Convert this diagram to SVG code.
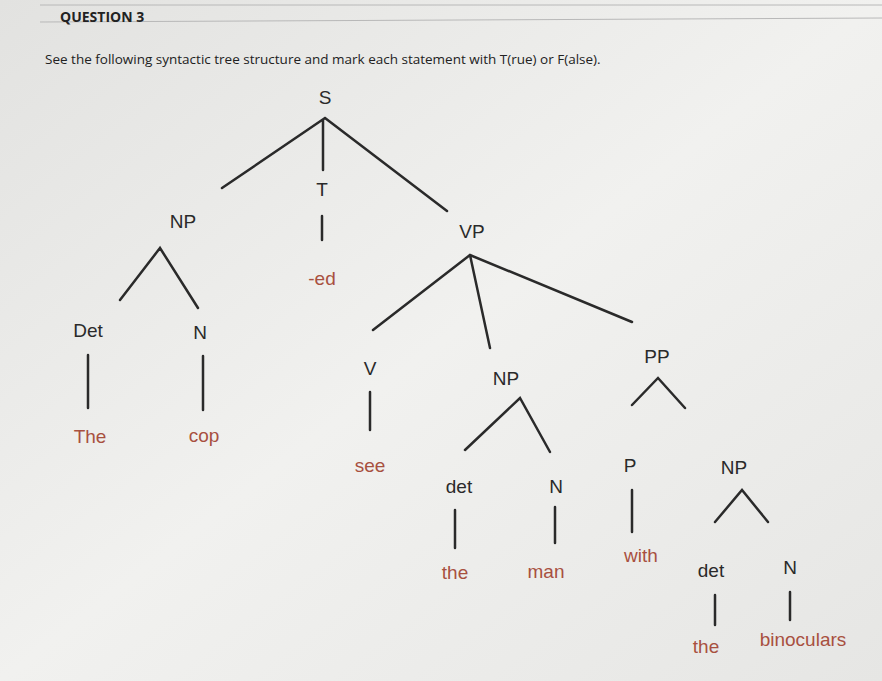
<svg xmlns="http://www.w3.org/2000/svg" width="882" height="681" viewBox="0 0 882 681">
<defs>
<linearGradient id="bg" x1="0" y1="0" x2="1" y2="1">
<stop offset="0" stop-color="#e2e2e0"/><stop offset="0.5" stop-color="#f1f1ef"/><stop offset="1" stop-color="#e6e6e4"/>
</linearGradient>
</defs>
<style>
.l{stroke:#2a2a2a;stroke-width:2.5;fill:none;stroke-linecap:round}
.t{font-family:"Liberation Sans",Arial,sans-serif;font-size:19px;fill:#2a2a2a;text-anchor:middle}
.r{font-family:"Liberation Sans",Arial,sans-serif;font-size:19px;fill:#a8503f;text-anchor:middle}
.h{font-family:"Open Sans","Liberation Sans",sans-serif;fill:#222}
</style>
<rect width="882" height="681" fill="url(#bg)"/>
<line x1="40" y1="5" x2="882" y2="5" stroke="#b8b8b8" stroke-width="1"/>
<line x1="40" y1="22" x2="882" y2="18" stroke="#b8b8b8" stroke-width="1"/>
<text class="h" x="60" y="22" font-size="14" font-weight="bold">QUESTION 3</text>
<text class="h" x="45" y="64" font-size="13.5">See the following syntactic tree structure and mark each statement with T(rue) or F(alse).</text>
<g id="connectors">
<path class="l" d="M325 118 L222 188 M325 118 L447 211 M323 120 L323 170 M322 216 L322 240"/>
<path class="l" d="M120 300 L160 248 L198 308 M88 355 L88 408 M203 356 L203 410"/>
<path class="l" d="M373 330 L470 255 L632 322 M470 255 L490 348 M370 392 L370 430"/>
<path class="l" d="M465 450 L520 398 L550 452 M455 510 L455 548 M555 507 L555 543"/>
<path class="l" d="M632 405 L658 378 L685 408 M632 490 L632 532"/>
<path class="l" d="M715 522 L742 490 L768 522 M715 595 L715 625 M790 592 L790 620"/>
</g>
<g id="S"><text class="t" x="325" y="104" font-size="22">S</text></g>
<g id="T"><text class="t" x="322" y="196">T</text></g>
<g id="ed"><text class="r" x="322" y="285">-ed</text></g>
<g id="NP1"><text class="t" x="183" y="228">NP</text></g>
<g id="Det"><text class="t" x="88" y="337">Det</text></g>
<g id="N1"><text class="t" x="200" y="339">N</text></g>
<g id="The"><text class="r" x="90" y="443">The</text></g>
<g id="cop"><text class="r" x="204" y="442">cop</text></g>
<g id="VP"><text class="t" x="472" y="238">VP</text></g>
<g id="V"><text class="t" x="370" y="375">V</text></g>
<g id="see"><text class="r" x="370" y="472">see</text></g>
<g id="NP2"><text class="t" x="506" y="385">NP</text></g>
<g id="det1"><text class="t" x="459" y="493">det</text></g>
<g id="N2"><text class="t" x="556" y="493">N</text></g>
<g id="the1"><text class="r" x="455" y="579">the</text></g>
<g id="man"><text class="r" x="546" y="578">man</text></g>
<g id="PP"><text class="t" x="657" y="363">PP</text></g>
<g id="P"><text class="t" x="630" y="472">P</text></g>
<g id="with"><text class="r" x="641" y="562">with</text></g>
<g id="NP3"><text class="t" x="734" y="474">NP</text></g>
<g id="det2"><text class="t" x="711" y="577">det</text></g>
<g id="N3"><text class="t" x="790" y="574">N</text></g>
<g id="the2"><text class="r" x="706" y="653">the</text></g>
<g id="binoculars"><text class="r" x="803" y="646">binoculars</text></g>
</svg>
